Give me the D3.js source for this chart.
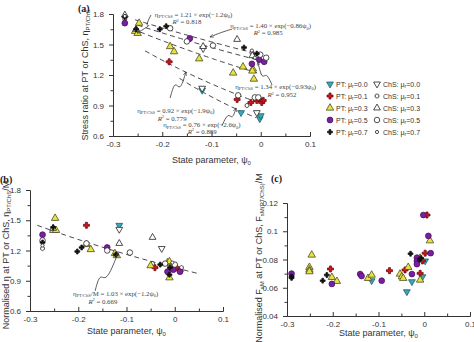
<!DOCTYPE html>
<html>
<head>
<meta charset="utf-8">
<script src="https://cdn.jsdelivr.net/npm/d3@7"></script>
<style>
body { margin: 0; background: #fff; }
svg text { font-family: "Liberation Sans", Arial, sans-serif; fill: #333; }
.eq { font-family: "Liberation Serif", "Times New Roman", serif; font-size: 6.8px; fill: #444; }
.tag { font-family: "Liberation Serif", "Times New Roman", serif; font-weight: bold; font-size: 10px; fill: #222; }
</style>
</head>
<body>
<svg width="474" height="342"></svg>
<script>
// series keys + legend text
const seriesKeys = ["PT0.0", "ChS0.0", "PT0.1", "ChS0.1", "PT0.3", "ChS0.3", "PT0.5", "ChS0.5", "PT0.7", "ChS0.7"];
const legendLabels = ["0.0", "0.1", "0.3", "0.5", "0.7"];

// panel (a): [series, psi0, eta]
const stressRatio = [
    ["PT0.0", -0.119, 1.05], ["PT0.0", -0.04, 0.83], ["PT0.0", -0.002, 0.77], ["PT0.0", 0.0, 0.80],
    ["ChS0.0", -0.119, 1.07], ["ChS0.0", -0.117, 1.46], ["ChS0.0", -0.008, 0.83],
    ["PT0.1", -0.186, 1.33], ["PT0.1", -0.048, 0.96], ["PT0.1", -0.02, 0.93], ["PT0.1", -0.008, 0.95],
    ["PT0.1", -0.002, 0.96], ["PT0.1", 0.002, 0.93], ["PT0.1", 0.005, 0.95],
    ["ChS0.1", -0.276, 1.75], ["ChS0.1", -0.028, 0.90], ["ChS0.1", -0.018, 1.42],
    ["PT0.3", -0.247, 1.71], ["PT0.3", -0.255, 1.63], ["PT0.3", -0.25, 1.61], ["PT0.3", -0.184, 1.48],
    ["PT0.3", -0.176, 1.43], ["PT0.3", -0.125, 1.36], ["PT0.3", -0.056, 1.22], ["PT0.3", -0.036, 1.28],
    ["PT0.3", -0.016, 1.26], ["PT0.3", -0.014, 1.16], ["PT0.3", -0.017, 1.24],
    ["ChS0.3", -0.276, 1.79], ["ChS0.3", -0.253, 1.65], ["ChS0.3", -0.117, 1.48], ["ChS0.3", -0.048, 1.55],
    ["ChS0.3", -0.017, 1.39],
    ["PT0.5", -0.276, 1.71], ["PT0.5", -0.144, 1.56], ["PT0.5", -0.018, 1.31], ["PT0.5", -0.003, 1.35],
    ["PT0.5", 0.007, 1.33],
    ["ChS0.5", -0.184, 1.66], ["ChS0.5", -0.15, 1.53], ["ChS0.5", -0.097, 1.49], ["ChS0.5", -0.046, 1.00],
    ["ChS0.5", -0.012, 0.98], ["ChS0.5", -0.001, 1.40], ["ChS0.5", 0.011, 1.37], ["ChS0.5", -0.005, 0.98],
    ["PT0.7", -0.276, 1.77], ["PT0.7", -0.253, 1.65], ["PT0.7", -0.205, 1.65], ["PT0.7", -0.192, 1.68],
    ["PT0.7", -0.034, 1.47], ["PT0.7", -0.008, 1.41],
    ["ChS0.7", -0.276, 1.78], ["ChS0.7", -0.018, 1.44], ["ChS0.7", -0.012, 1.37]
];

// panel (b): [series, psi0, eta/M]
const normStress = [
    ["PT0.0", -0.115, 1.45],
    ["ChS0.0", -0.115, 1.41], ["ChS0.0", -0.027, 1.22],
    ["PT0.1", -0.183, 1.45], ["PT0.1", -0.041, 1.03], ["PT0.1", 0.004, 1.03], ["PT0.1", 0.011, 1.00],
    ["PT0.1", -0.005, 1.02],
    ["ChS0.1", -0.274, 1.22], ["ChS0.1", -0.046, 1.07], ["ChS0.1", 0.014, 1.03],
    ["PT0.3", -0.248, 1.52], ["PT0.3", -0.252, 1.40], ["PT0.3", -0.246, 1.40], ["PT0.3", -0.183, 1.26],
    ["PT0.3", -0.174, 1.21], ["PT0.3", -0.124, 1.17], ["PT0.3", -0.12, 1.15], ["PT0.3", -0.05, 1.05],
    ["PT0.3", -0.015, 1.08], ["PT0.3", -0.011, 1.09], ["PT0.3", -0.011, 0.93],
    ["ChS0.3", -0.252, 1.42], ["ChS0.3", -0.115, 1.27], ["ChS0.3", -0.046, 1.33],
    ["PT0.5", -0.274, 1.357], ["PT0.5", -0.14, 1.23], ["PT0.5", -0.015, 0.99], ["PT0.5", -0.003, 1.01],
    ["PT0.5", 0.011, 0.99],
    ["ChS0.5", -0.274, 1.30], ["ChS0.5", -0.183, 1.27], ["ChS0.5", -0.14, 1.20], ["ChS0.5", -0.093, 1.18],
    ["ChS0.5", -0.02, 1.07], ["ChS0.5", 0.0, 1.06],
    ["PT0.7", -0.274, 1.28], ["PT0.7", -0.252, 1.43], ["PT0.7", -0.202, 1.19], ["PT0.7", -0.193, 1.23],
    ["PT0.7", -0.122, 1.16], ["PT0.7", -0.03, 1.06], ["PT0.7", -0.011, 0.96], ["PT0.7", -0.01, 1.03],
    ["ChS0.7", -0.274, 1.25], ["ChS0.7", -0.005, 1.08]
];

// panel (c): [series, psi0, FsM/M]
const normForce = [
    ["PT0.0", -0.115, 0.065], ["PT0.0", -0.038, 0.0572], ["PT0.0", -0.027, 0.0643], ["PT0.0", -0.004, 0.0678],
    ["PT0.0", 0.002, 0.079],
    ["PT0.1", -0.205, 0.0733], ["PT0.1", -0.076, 0.0721], ["PT0.1", -0.042, 0.0726], ["PT0.1", -0.009, 0.0702],
    ["PT0.1", -0.004, 0.079], ["PT0.1", 0.002, 0.0845], ["PT0.1", 0.006, 0.1115],
    ["PT0.3", -0.246, 0.0832], ["PT0.3", -0.251, 0.0745], ["PT0.3", -0.251, 0.0726], ["PT0.3", -0.251, 0.0714],
    ["PT0.3", -0.202, 0.0674], ["PT0.3", -0.191, 0.0646], ["PT0.3", -0.123, 0.0667], ["PT0.3", -0.115, 0.069],
    ["PT0.3", -0.053, 0.0697], ["PT0.3", -0.049, 0.0678], ["PT0.3", -0.046, 0.0667], ["PT0.3", -0.035, 0.0745],
    ["PT0.3", -0.009, 0.0655], ["PT0.3", 0.0125, 0.0933], ["PT0.3", -0.009, 0.081],
    ["PT0.5", -0.29, 0.070], ["PT0.5", -0.202, 0.0627], ["PT0.5", -0.14, 0.0697], ["PT0.5", -0.137, 0.0683],
    ["PT0.5", -0.093, 0.065], ["PT0.5", -0.027, 0.0697], ["PT0.5", -0.016, 0.0813], ["PT0.5", -0.016, 0.079],
    ["PT0.5", -0.016, 0.0767], ["PT0.5", -0.002, 0.1115], ["PT0.5", 0.009, 0.0967], ["PT0.5", 0.014, 0.0845],
    ["PT0.7", -0.29, 0.068], ["PT0.7", -0.29, 0.067], ["PT0.7", -0.222, 0.065], ["PT0.7", -0.213, 0.069],
    ["PT0.7", -0.03, 0.0841], ["PT0.7", -0.01, 0.08], ["PT0.7", -0.007, 0.081]
];

// fitted curves: [a, b, psiStart, psiEnd, R2]  eta = a*exp(b*psi)
const fitsA = [
    [1.40, -0.86, -0.255, 0.0, "0.985"],
    [1.34, -0.93, -0.25, 0.0, "0.952"],
    [1.21, -1.2, -0.245, 0.0, "0.818"],
    [0.92, -1.9, -0.235, -0.01, "0.779"],
    [0.76, -2.6, -0.165, -0.01, "0.889"]
];
const fitsB = [[1.03, -1.2, -0.285, 0.05, "0.669"]];

// equation labels: [fit index, psi, value of eq line, psi, value of R2 line]
const eqA = [
    [2, -0.215, 1.775, -0.150, 1.70],
    [0, -0.062, 1.662, 0.015, 1.590],
    [1, -0.052, 1.065, 0.043, 0.980],
    [3, -0.251, 0.830, -0.180, 0.752],
    [4, -0.198, 0.688, -0.119, 0.620]
];
const eqB = [[0, -0.211, 0.75, -0.149, 0.67]];

// callout arrows (data coords)
const arrowsA = [
    [[-0.223, 1.79], [-0.235, 1.672], [-0.221, 1.70], [-0.251, 1.613]],
    [[-0.058, 1.652], [-0.08, 1.62], [-0.103, 1.574]],
    [[0.023, 1.102], [0.011, 1.23], [0.003, 1.151], [-0.006, 1.328]],
    [[-0.184, 0.974], [-0.174, 1.151], [-0.164, 1.033], [-0.152, 1.229]],
    [[-0.079, 0.698], [-0.066, 0.836], [-0.058, 0.757], [-0.050, 0.875]]
];
const arrowsB = [[[-0.165, 0.80], [-0.155, 0.98], [-0.142, 0.88], [-0.118, 1.17]]];

const psiTicks = [-0.3, -0.2, -0.1, 0, 0.1];
const psiMinor = [-0.25, -0.15, -0.05, 0.05];

const hexagon = {
    draw(ctx, size) {
        const r = Math.sqrt(size / 2.598);
        for (let i = 0; i < 6; i++) {
            const a = Math.PI / 6 + i * Math.PI / 3;
            i ? ctx.lineTo(r * Math.cos(a), r * Math.sin(a)) : ctx.moveTo(r * Math.cos(a), r * Math.sin(a));
        }
        ctx.closePath();
    }
};

const markerStyle = {
    "PT0.0": {type: d3.symbolTriangle, rot: 180, size: 20, fill: "#3aa7ba", stroke: "#21606c"},
    "ChS0.0": {type: d3.symbolTriangle, rot: 180, size: 20, fill: "#fff", stroke: "#222"},
    "PT0.1": {type: d3.symbolCross, size: 20, fill: "#c8171e", stroke: "#7a0a0e"},
    "ChS0.1": {type: hexagon, size: 12, fill: "#fff", stroke: "#222"},
    "PT0.3": {type: d3.symbolTriangle, size: 24, fill: "#e9e43a", stroke: "#4a4a2a"},
    "ChS0.3": {type: d3.symbolTriangle, size: 20, fill: "#fff", stroke: "#222"},
    "PT0.5": {type: d3.symbolCircle, size: 26, fill: "#7b1fa2", stroke: "#4a1060"},
    "ChS0.5": {type: d3.symbolCircle, size: 24, fill: "#fff", stroke: "#222"},
    "PT0.7": {type: d3.symbolCross, size: 13, fill: "#111", stroke: "#111"},
    "ChS0.7": {type: d3.symbolCircle, size: 8, fill: "#fff", stroke: "#222"}
};

const svg = d3.select('svg');
const defs = svg.append('defs');
defs.append('marker')
    .attr('id', 'head')
    .attr('viewBox', '0 0 10 10')
    .attr('refX', 9).attr('refY', 5)
    .attr('markerWidth', 5).attr('markerHeight', 5)
    .attr('orient', 'auto')
    .append('path')
    .attr('d', 'M0,1L10,5L0,9')
    .attr('fill', 'none')
    .attr('stroke', '#333')
    .attr('stroke-width', 1.4);

function drawMarkers(g, rows, x, y) {
    g.selectAll('path.pt')
        .data(rows.slice().sort((a, b) => seriesKeys.indexOf(a[0]) - seriesKeys.indexOf(b[0])))
        .join('path')
        .attr('class', 'pt')
        .attr('d', d => d3.symbol(markerStyle[d[0]].type, markerStyle[d[0]].size)())
        .attr('transform', d => `translate(${x(d[1])},${y(d[2])}) rotate(${markerStyle[d[0]].rot || 0})`)
        .attr('fill', d => markerStyle[d[0]].fill)
        .attr('stroke', d => markerStyle[d[0]].stroke)
        .attr('stroke-width', 0.8);
}

function eqText(g, x, y, fit, row, lhs) {
    const t = g.append('text').attr('class', 'eq')
        .attr('x', x(row[1])).attr('y', y(row[2]));
    t.append('tspan').text('η');
    t.append('tspan').attr('font-size', 4.5).attr('dy', 1.5).text('PT/ChS');
    t.append('tspan').attr('dy', -1.5).text(`${lhs} = ${fit[0].toFixed(2)} × exp(−${Math.abs(fit[1])}ψ`);
    t.append('tspan').attr('font-size', 4.5).attr('dy', 1.5).text('0');
    t.append('tspan').attr('dy', -1.5).text(')');
    const r = g.append('text').attr('class', 'eq')
        .attr('x', x(row[3])).attr('y', y(row[4]))
        .attr('text-anchor', 'middle');
    r.append('tspan').attr('font-style', 'italic').text('R');
    r.append('tspan').attr('font-size', 4.5).attr('dy', -2.5).text('2');
    r.append('tspan').attr('dy', 2.5).text(' = ' + fit[4]);
}

function drawPanel(p) {
    const x = d3.scaleLinear().domain([-0.3, 0.1]).range(p.xr);
    const y = d3.scaleLinear().domain(p.yd).range(p.yr);
    const g = svg.append('g');

    // x axis, ticks pointing inwards
    const xa = g.append('g').attr('transform', `translate(0,${p.yr[0]})`);
    xa.call(d3.axisBottom(x).tickValues(psiTicks).tickSizeInner(-4).tickSizeOuter(0).tickPadding(5)
        .tickFormat(d => d === 0 ? '0' : d.toFixed(1)));
    xa.append('g').call(d3.axisBottom(x).tickValues(psiMinor).tickSizeInner(-2.5).tickSizeOuter(0).tickFormat(''));
    // y axis, ticks outwards
    const ya = g.append('g').attr('transform', `translate(${p.xr[0]},0)`);
    ya.call(d3.axisLeft(y).tickValues(p.yTicks).tickSizeInner(4).tickSizeOuter(0).tickPadding(5).tickFormat(p.yFmt));
    ya.append('g').call(d3.axisLeft(y).tickValues(p.yMinor).tickSizeInner(2.5).tickSizeOuter(0).tickFormat(''));
    g.selectAll('.domain, .tick line').attr('stroke', '#333');
    g.selectAll('.tick text').attr('font-size', 8).attr('fill', '#333');

    // axis titles
    const xt = g.append('text').attr('x', (p.xr[0] + p.xr[1]) / 2).attr('y', p.xtY)
        .attr('text-anchor', 'middle').attr('font-size', 9);
    xt.append('tspan').text('State parameter, ψ');
    xt.append('tspan').attr('font-size', 6).attr('dy', 2).text('0');

    const yt = g.append('text')
        .attr('transform', `translate(${p.ytX},${p.ytY}) rotate(-90)`)
        .attr('text-anchor', 'middle').attr('font-size', 9);
    p.yTitle.forEach(s => {
        yt.append('tspan').attr('font-size', s[1] > 0 ? 6 : 9).attr('dy', s[1] || 0).text(s[0]);
    });

    g.append('text').attr('class', 'tag').attr('x', p.tag[0]).attr('y', p.tag[1]).text(p.tag[2]);

    // fitted curves
    (p.fits || []).forEach(f => {
        const pts = d3.range(0, 41).map(i => f[2] + (f[3] - f[2]) * i / 40);
        g.append('path')
            .attr('d', d3.line().x(v => x(v)).y(v => y(f[0] * Math.exp(f[1] * v)))(pts))
            .attr('fill', 'none').attr('stroke', '#333').attr('stroke-width', 0.9)
            .attr('stroke-dasharray', '5,3.5');
    });

    drawMarkers(g.append('g'), p.rows, x, y);

    (p.eqs || []).forEach(e => eqText(g, x, y, p.fits[e[0]], e, p.lhs));
    (p.arrows || []).forEach(a => {
        g.append('path')
            .attr('d', d3.line().x(v => x(v[0])).y(v => y(v[1])).curve(d3.curveBasis)(a))
            .attr('fill', 'none').attr('stroke', '#333').attr('stroke-width', 0.8)
            .attr('marker-end', 'url(#head)');
    });
}

drawPanel({
    xr: [113, 310], yr: [136, 14], yd: [0.6, 1.8],
    yTicks: [0.6, 0.9, 1.2, 1.5, 1.8], yMinor: [0.75, 1.05, 1.35, 1.65], yFmt: d => d.toFixed(1),
    xtY: 163, ytX: 88, ytY: 75,
    yTitle: [["Stress ratio at PT or ChS, η", 0], ["PT/ChS", 2]],
    tag: [78, 12, "(a)"],
    rows: stressRatio, fits: fitsA, eqs: eqA, arrows: arrowsA, lhs: ''
});

drawPanel({
    xr: [30, 223], yr: [311, 190], yd: [0.6, 1.8],
    yTicks: [0.6, 0.9, 1.2, 1.5, 1.8], yMinor: [0.75, 1.05, 1.35, 1.65], yFmt: d => d.toFixed(1),
    xtY: 334, ytX: 9, ytY: 255,
    yTitle: [["Normalised η at PT or ChS, η", 0], ["PT/ChS", 2], ["/M", -2]],
    tag: [0, 183, "(b)"],
    rows: normStress, fits: fitsB, eqs: eqB, arrows: arrowsB, lhs: '/M'
});

drawPanel({
    xr: [287, 470], yr: [316, 203], yd: [0.04, 0.12],
    yTicks: [0.04, 0.06, 0.08, 0.1, 0.12], yMinor: [0.05, 0.07, 0.09, 0.11], yFmt: d => String(+d.toFixed(2)),
    xtY: 336, ytX: 262, ytY: 258,
    yTitle: [["Normalised F", 0], ["sM", 2], [" at PT or ChS, F", -2], ["sM(PT/ChS)", 2], ["/M", -2]],
    tag: [271, 182, "(c)"],
    rows: normForce
});

// legend
const legend = svg.append('g').selectAll('g')
    .data(seriesKeys)
    .join('g')
    .attr('transform', (d, i) => `translate(${330 + (i % 2) * 47},${84 + Math.floor(i / 2) * 12})`);
legend.append('path')
    .attr('d', d => d3.symbol(markerStyle[d].type, markerStyle[d].size)())
    .attr('transform', d => `rotate(${markerStyle[d].rot || 0})`)
    .attr('fill', d => markerStyle[d].fill)
    .attr('stroke', d => markerStyle[d].stroke)
    .attr('stroke-width', 0.8);
const lt = legend.append('text').attr('x', 6).attr('y', 2.5).attr('font-size', 7);
lt.append('tspan').text(d => d.startsWith('PT') ? 'PT: μ' : 'ChS: μ');
lt.append('tspan').attr('font-size', 5).attr('dy', 1.5).text('r');
lt.append('tspan').attr('dy', -1.5).text((d, i) => '=' + legendLabels[Math.floor(i / 2)]);
</script>
</body>
</html>
